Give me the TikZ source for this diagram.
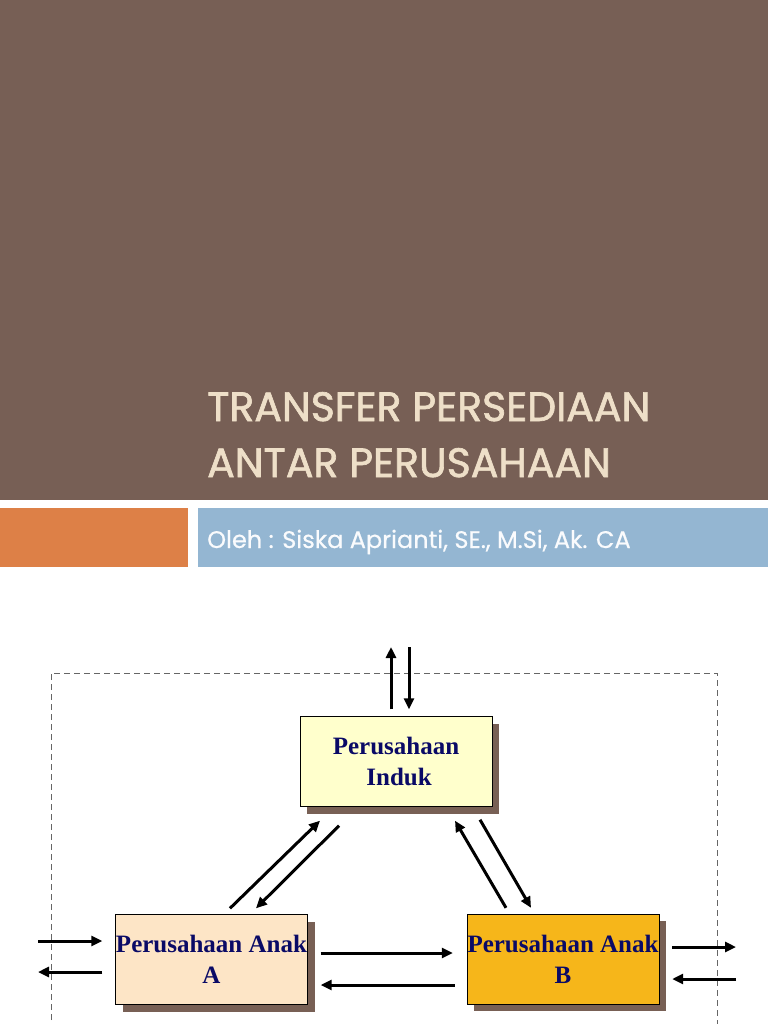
\documentclass[tikz,border=0pt]{standalone}
\usepackage{fontspec}
\setmainfont{Liberation Serif}
\newfontfamily\slidefont[FakeBold=0.6]{Poppins}
\newfontfamily\slidetitlefont[FakeBold=1.6]{Poppins}
\usetikzlibrary{arrows.meta,shadows}

\definecolor{slidebrown}{HTML}{775F55}
\definecolor{slideorange}{HTML}{DD8047}
\definecolor{slideblue}{HTML}{94B6D2}
\definecolor{titlecream}{HTML}{EEDFC8}
\definecolor{inkblue}{HTML}{0A0A66}
\definecolor{indukfill}{HTML}{FFFFCC}
\definecolor{anakAfill}{HTML}{FDE5C6}
\definecolor{anakBfill}{HTML}{F6B61A}
\definecolor{shadowbrown}{HTML}{786055}

\begin{document}
\begin{tikzpicture}[x=1pt, y=-1pt,
    firm/.style={draw, thin, rectangle, minimum width=192pt, minimum height=90pt, inner sep=0pt,
        align=center, text=inkblue, font=\fontsize{25}{31}\selectfont\bfseries,
        drop shadow={shadow xshift=7pt, shadow yshift=-7pt, fill=shadowbrown, opacity=1}},
    flow/.style={line width=3pt, -{Triangle[length=11pt,width=10pt]}}
]
    \useasboundingbox (0,0) rectangle (768,1024);
    \fill[white] (0,0) rectangle (768,1024);

    % title slide header
    \fill[slidebrown] (0,0) rectangle (768,500);
    \fill[slideorange] (0,508) rectangle (188,567);
    \fill[slideblue] (198,508) rectangle (768,567);
    \node[anchor=base west, inner sep=0pt, text=titlecream, font=\slidetitlefont\fontsize{41}{50}\selectfont]
        (title1) at (207,421) {TRANSFER PERSEDIAAN};
    \node[anchor=base west, inner sep=0pt, text=titlecream, font=\slidetitlefont\fontsize{41}{50}\selectfont]
        (title2) at (207,477) {ANTAR PERUSAHAAN};
    \node[anchor=base west, inner sep=0pt, text=white!95!slideblue, font=\slidefont\fontsize{24}{28}\selectfont]
        (author) at (207,548) {Oleh : Siska Aprianti, SE., M.Si, Ak. CA};

    % group boundary
    \draw[gray!80!black, dashed, dash pattern=on 6pt off 4pt, thin] (51,1030) -- (51,673) -- (717,673) -- (717,1030);

    \node[firm, fill=indukfill] (induk) at (396,761.5) {Perusahaan\\ \ Induk};
    \node[firm, fill=anakAfill] (anakA) at (211.5,959.5) {Perusahaan Anak\\A};
    \node[firm, fill=anakBfill] (anakB) at (563,959) {Perusahaan Anak\\B};

    \coordinate (topOut) at (391,647);
    \coordinate (topIn) at (409,647);
    \coordinate (leftIn) at (38,941);
    \coordinate (leftOut) at (38,972);
    \coordinate (rightOut) at (736,947);
    \coordinate (rightIn) at (736,979);

    \draw[flow] ([xshift=-5pt]induk.north) ++(0,-7) -- (topOut);
    \draw[flow] (topIn) -- ([shift={(13,-7)}]induk.north);

    \draw[flow] ([shift={(18.5,-6)}]anakA.north) -- ([shift={(-76,14)}]induk.south);
    \draw[flow] ([shift={(-57,19)}]induk.south) -- ([shift={(44.5,-6)}]anakA.north);
    \draw[flow] ([shift={(-57,-6)}]anakB.north) -- ([shift={(59,14)}]induk.south);
    \draw[flow] ([shift={(84,13)}]induk.south) -- ([shift={(-32,-6)}]anakB.north);

    \draw[flow] ([shift={(13,-6.5)}]anakA.east) -- ([shift={(-14,-6)}]anakB.west);
    \draw[flow] ([shift={(-12,26)}]anakB.west) -- ([shift={(13,25.5)}]anakA.east);

    \draw[flow] (leftIn) -- ([shift={(-13,-18.5)}]anakA.west);
    \draw[flow] ([shift={(-13,12.5)}]anakA.west) -- (leftOut);
    \draw[flow] ([shift={(13,-12)}]anakB.east) -- (rightOut);
    \draw[flow] (rightIn) -- ([shift={(13,20)}]anakB.east);
\end{tikzpicture}
\end{document}
